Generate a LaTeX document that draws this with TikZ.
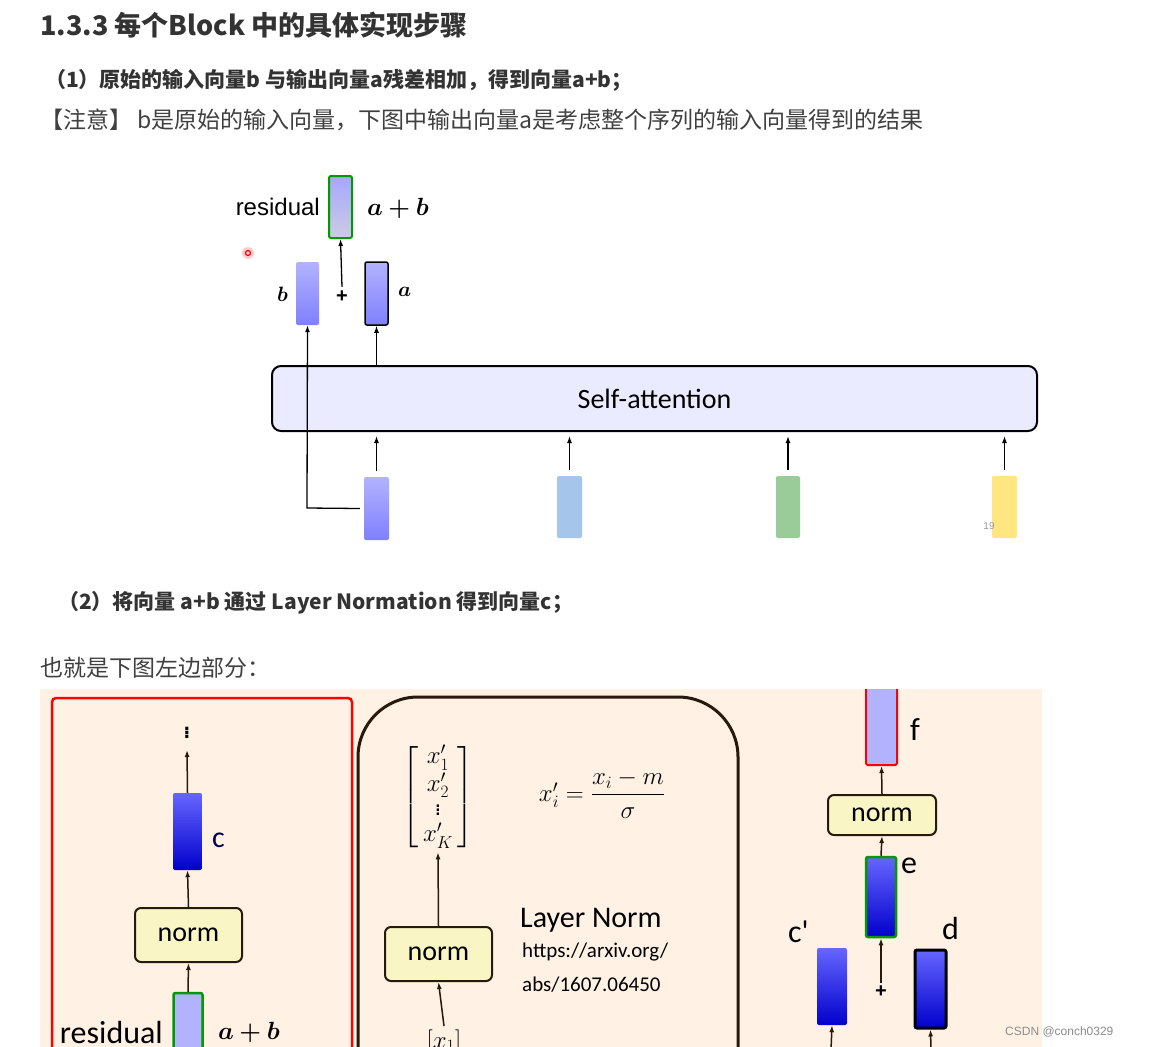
\documentclass[tikz,border=0pt]{standalone}
\usepackage{amsmath,amssymb}
\usepackage{bm}
\usepackage{fontspec}
\setmainfont{Liberation Sans}
\newfontfamily\cjk{Noto Sans CJK SC}
\newfontfamily\carl{Carlito}
\usetikzlibrary{arrows.meta,calc}
\begin{document}
\begin{tikzpicture}[x=1pt,y=-1pt,
  arr/.style={-{Latex[length=7pt,width=5pt]},line width=1.3pt},
  barr/.style={-{Latex[length=7pt,width=5pt]},line width=1.5pt,draw=black!80!brown},
  vec/.style={draw=none,rounded corners=2pt,inner sep=0pt},
  normb/.style={draw=black!80!brown,line width=2pt,fill=brown!30!yellow!25,rounded corners=6pt,minimum width=107pt,minimum height=54pt,font=\carl\fontsize{28}{28}\selectfont},
  t/.style={inner sep=0pt,anchor=west}]
\useasboundingbox (0,0) rectangle (1149,1047);
\fill[white] (0,0) rectangle (1149,1047);
% texts
\node[t,font=\cjk\bfseries\fontsize{27}{27}\selectfont,text=black!80] (h1) at (40,25) {1.3.3 每个Block 中的具体实现步骤};
\node[t,font=\cjk\bfseries\fontsize{21}{21}\selectfont,text=black!80] (h2) at (45,80) {（1）原始的输入向量b 与输出向量a残差相加，得到向量a+b；};
\node[t,font=\cjk\fontsize{23}{23}\selectfont,text=black!75] (h3) at (40,120) {【注意】 b是原始的输入向量，下图中输出向量a是考虑整个序列的输入向量得到的结果};
% top diagram
\node[draw=black,line width=2pt,fill=blue!8,rounded corners=9pt,minimum width=765pt,minimum height=65pt,font=\carl\fontsize{28}{28}\selectfont] (sa) at (654.5,398.5) {Self-attention};
\node[vec,draw=green!60!black,line width=2pt,top color=blue!35,bottom color=blue!45!black!20,minimum width=23pt,minimum height=62pt] (r) at (340.5,207) {};
\node[t,anchor=east,font=\fontsize{24}{24}\selectfont] (rl) at (320,207) {residual};
\node[t,font=\fontsize{24}{24}\selectfont] (ab) at (367,208) {$\bm{a+b}$};
\node[vec,top color=blue!30,bottom color=blue!50,minimum width=23pt,minimum height=63pt] (b) at (307.5,293.5) {};
\node[vec,draw=black,line width=1.5pt,top color=blue!30,bottom color=blue!50,minimum width=23pt,minimum height=63pt] (a) at (376.5,293.5) {};
\node[t,anchor=east,font=\fontsize{22}{22}\selectfont] (bl) at (288,294) {$\bm{b}$};
\node[t,font=\fontsize{22}{22}\selectfont] (al) at (398,292) {$\bm{a}$};
\node[inner sep=0pt,font=\bfseries\fontsize{20}{20}\selectfont] (pl) at (342,297) {+};
\draw[arr] ($(pl.north)+(0,-4)$) -- (r.south);
\draw[arr] (a |- sa.north) -- (a.south);
\node[vec,top color=blue!30,bottom color=blue!50,minimum width=25pt,minimum height=63pt] (i1) at (376.5,508.5) {};
\node[vec,fill=cyan!60!blue!35,minimum width=25pt,minimum height=62pt] (i2) at (569.5,507) {};
\node[vec,fill=green!50!black!40,minimum width=24pt,minimum height=62pt] (i3) at (788,507) {};
\node[vec,fill=orange!40!yellow!50,minimum width=25pt,minimum height=62pt] (i4) at (1004.5,507) {};
\foreach \i in {1,2,3,4}{\draw[arr,shorten >=4pt] ($(i\i.north)+(0,-6)$) -- (i\i |- sa.south);}
\draw[arr] ($(i1.west)+(-4,0)$) -- (307,508) -- (b.south);
\node[text=black!40,font=\fontsize{10}{10}\selectfont] (n19) at (989,526) {19};
\fill[red!80,opacity=0.25] (248,253) circle (6);
\draw[red,line width=1.2pt] (248,253) circle (2.5);
\node[t,font=\cjk\bfseries\fontsize{21}{21}\selectfont,text=black!80] (h4) at (58,603) {（2）将向量 a+b 通过 Layer Normation 得到向量c；};
\node[t,font=\cjk\fontsize{23}{23}\selectfont,text=black!75] (h5) at (40,668) {也就是下图左边部分：};
% bottom image
\begin{scope}
\clip (40,689) rectangle (1042,1047);
\fill[orange!10!white] (40,689) rectangle (1042,1047);
\draw[red,line width=2.5pt,rounded corners=4pt] (52,1060) -- (52,698) -- (352,698) -- (352,1060);
\draw[black!80!brown,line width=3pt,rounded corners=60pt] (358,1100) -- (358,697) -- (738,697) -- (738,1100);
% left
\node[font=\bfseries\fontsize{22}{22}\selectfont] (dots) at (187,730) {$\vdots$};
\node[vec,top color=blue!60,bottom color=blue!80!black,minimum width=29pt,minimum height=77pt] (c) at (187.5,831.5) {};
\node[t,font=\carl\fontsize{30}{30}\selectfont,text=black!70!blue] (cl) at (212,840) {c};
\node[normb] (n1) at (188.5,935) {norm};
\node[vec,draw=green!60!black,line width=2.5pt,fill=blue!30,minimum width=29pt,minimum height=70pt] (r2) at (188,1028) {};
\node[t,anchor=east,font=\carl\fontsize{32}{32}\selectfont] (rl2) at (163,1032) {residual};
\node[t,font=\fontsize{28}{28}\selectfont] (ab2) at (218,1032) {$\bm{a+b}$};
\draw[barr] (c.north) -- (187,750);
\draw[barr] (n1.north) -- (c.south);
\draw[barr] (r2.north) -- (n1.south);
% middle
\node[font=\fontsize{24}{24}\selectfont] (mx) at (438,797) {$\left[\begin{array}{c}x_1'\\[2pt] x_2'\\ \vdots\\ x_K'\end{array}\right]$};
\node[font=\fontsize{26}{26}\selectfont] (fm) at (602,794) {$x_i'=\dfrac{x_i-m}{\sigma}$};
\node[normb] (n2) at (438.5,954) {norm};
\draw[barr] (n2.north) -- (mx.south);
\node[font=\fontsize{24}{24}\selectfont] (x1) at (444,1042) {$\left[x_1\right]$};
\draw[barr] (x1.north) -- (n2.south);
\node[t,font=\carl\fontsize{30}{30}\selectfont] (ln) at (520,920) {Layer Norm};
\node[t,font=\carl\fontsize{21}{21}\selectfont] (u1) at (522,952) {https://arxiv.org/};
\node[t,font=\carl\fontsize{21}{21}\selectfont] (u2) at (522,985) {abs/1607.06450};
% right
\node[vec,draw=red,line width=2pt,fill=blue!30,minimum width=31pt,minimum height=90pt] (f) at (881.5,720) {};
\node[t,font=\carl\fontsize{32}{32}\selectfont] (fl) at (910,730) {f};
\node[normb,minimum width=108pt,minimum height=40pt] (n3) at (882,815) {norm};
\node[vec,draw=green!60!black,line width=2.5pt,top color=blue!60,bottom color=blue!80!black,minimum width=30pt,minimum height=80pt] (e) at (881,897) {};
\node[t,font=\carl\fontsize{32}{32}\selectfont] (el) at (901,866) {e};
\node[inner sep=0pt,font=\bfseries\fontsize{20}{20}\selectfont] (pl2) at (881,992) {+};
\node[vec,top color=blue!60,bottom color=blue!80!black,minimum width=30pt,minimum height=77pt] (cp) at (832,986.5) {};
\node[t,font=\carl\fontsize{32}{32}\selectfont] (cpl) at (788,932) {c'};
\node[vec,draw=black,line width=3pt,top color=blue!60,bottom color=blue!80!black,minimum width=31pt,minimum height=78pt] (d) at (930.5,989) {};
\node[t,font=\carl\fontsize{32}{32}\selectfont] (dl) at (942,928) {d};
\draw[barr] (n3.north) -- (f.south);
\draw[barr] (e.north) -- (n3.south);
\draw[barr] ($(pl2.north)+(0,-3)$) -- (e.south);
\coordinate (cb) at (831,1050); \coordinate (db) at (931,1050);
\draw[barr] (cb) -- (cp.south);
\draw[barr] (db) -- (d.south);
\end{scope}
\node[t,text=black!45,font=\fontsize{12}{12}\selectfont] (wm) at (1005,1032) {CSDN @conch0329};
\end{tikzpicture}
\end{document}
